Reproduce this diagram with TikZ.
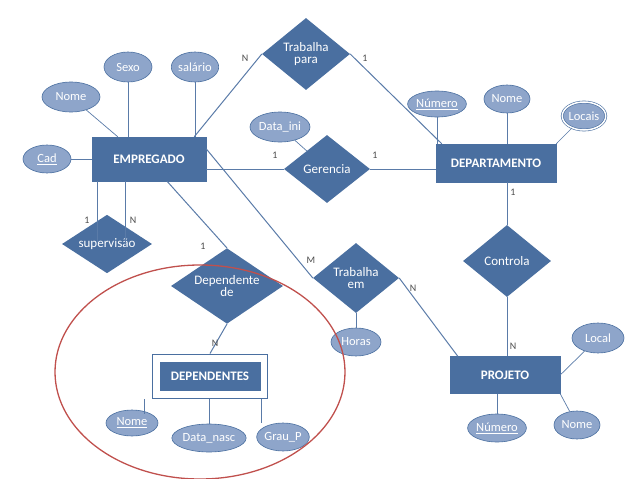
\documentclass[tikz,border=0pt]{standalone}
\usepackage{fontspec}
\setmainfont{Carlito}
\usetikzlibrary{shapes.geometric}
\definecolor{dk}{HTML}{4A6FA0}
\definecolor{lt}{HTML}{8EA5CA}
\definecolor{ln}{HTML}{5A7BA8}
\definecolor{rd}{HTML}{C0504D}
\tikzset{
 ent/.style={rectangle,fill=dk,draw=dk,text=white,font=\fontsize{13}{14}\selectfont\bfseries,minimum height=38pt,inner sep=0pt},
 rel/.style={diamond,fill=dk,text=white,font=\fontsize{13}{14}\selectfont,inner sep=0pt,aspect=1.2,align=center},
 att/.style={ellipse,fill=lt,draw=dk,line width=0.6pt,text=white,font=\fontsize{12.5}{13}\selectfont,inner sep=0pt,minimum height=28pt},
 con/.style={draw=ln,line width=1pt},
 lab/.style={font=\fontsize{10}{11}\selectfont,text=black!70}
}
\begin{document}
\begin{tikzpicture}[x=1pt,y=-1pt]
\useasboundingbox (0,0) rectangle (638,479);
% entities
\node[ent,minimum width=114pt,minimum height=44pt] (emp) at (149,159) {EMPREGADO};
\node[ent,minimum width=120pt] (dep) at (496,163) {DEPARTAMENTO};
\node[ent,minimum width=110pt,minimum height=37pt] (proj) at (505,375) {PROJETO};
\node[rectangle,draw=dk,line width=1pt,fill=white,minimum width=115pt,minimum height=44pt] (dpo) at (210,376) {};
\node[ent,minimum width=100pt,minimum height=28pt] (dps) at (210,376) {DEPENDENTES};
% relationships
\node[rel,minimum width=88pt,minimum height=72pt] (tp) at (306,54) {Trabalha\\[-2pt]para};
\node[rel,minimum width=86pt,minimum height=68pt] (ger) at (327,169) {Gerencia};
\node[rel,minimum width=88pt,minimum height=72pt] (ctl) at (507,261) {Controla};
\node[rel,minimum width=90pt,minimum height=58pt] (sup) at (107,244) {supervisão};
\node[rel,minimum width=112pt,minimum height=72pt] (dde) at (227,286) {Dependente\\[-2pt]de};
\node[rel,minimum width=86pt,minimum height=70pt] (tem) at (356,278) {Trabalha\\[-2pt]em};
% attributes
\node[att,minimum width=48pt] (cad) at (47,159) {\underline{Cad}};
\node[att,minimum width=58pt,minimum height=30pt] (enome) at (71,97) {Nome};
\node[att,minimum width=48pt,minimum height=30pt] (sexo) at (128,67) {Sexo};
\node[att,minimum width=46pt,minimum height=30pt] (sal) at (195,67) {salário};
\node[att,minimum width=60pt,minimum height=30pt] (dini) at (280,127) {Data\_ini};
\node[att,minimum width=46pt,minimum height=26pt] (dnum) at (437,104) {\underline{Número}};
\node[att,minimum width=46pt] (dnome) at (507,99) {Nome};
\node[att,minimum width=42pt,minimum height=28pt,double=white,double distance=1.5pt,draw=dk] (loc) at (584,116) {Locais};
\node[att,minimum width=52pt,minimum height=30pt] (plocal) at (598,338) {Local};
\node[att,minimum width=50pt] (pnum) at (497,428) {\underline{Número}};
\node[att,minimum width=46pt] (pnome) at (577,425) {Nome};
\node[att,minimum width=50pt] (horas) at (356,342) {Horas};
\node[att,minimum width=52pt,minimum height=26pt] (dnm) at (132,423) {\underline{Nome}};
\node[att,minimum width=62pt] (dnasc) at (209,438) {Data\_nasc};
\node[att,minimum width=52pt] (grau) at (283,437) {Grau\_P};
% connectors
\draw[con] (emp.north east)++(-12,0) coordinate (e1) -- (tp.west);
\draw[con] (tp.east) -- ([xshift=6pt]dep.north west);
\draw[con] (emp.east|-ger.west) -- (ger.west);
\draw[con] (ger.east) -- (dep.west|-ger.east);
\draw[con] ([xshift=18pt]emp.south) -- (dde.north);
\draw[con] ([yshift=-12pt]emp.north east) -- (tem.west);
\draw[con] (tem.east) -- ([xshift=8pt]proj.north west);
\draw[con] ([xshift=-52pt]emp.south) -- ([xshift=-52pt]emp.south|-sup.west) coordinate (s1);
\draw[con] ([xshift=-24pt]emp.south) -- ([xshift=-24pt]emp.south|-sup.east);
\draw[con] (dde.south) -- (dpo.north);
\draw[con] (dep.south-|ctl.north) -- (ctl.north);
\draw[con] (ctl.south) -- (proj.north-|ctl.south);
% attribute connectors
\draw[con,line width=0.7pt] (cad) -- (emp);
\draw[con,line width=0.7pt] (enome) -- ([xshift=26pt]emp.north west);
\draw[con,line width=0.7pt] (sexo) -- (sexo|-emp.north);
\draw[con,line width=0.7pt] (sal) -- (sal|-emp.north);
\draw[con,line width=0.7pt] (dini) -- (ger);
\draw[con,line width=0.7pt] (dnum) -- (dnum|-dep.north);
\draw[con,line width=0.7pt] (dnome) -- (dnome|-dep.north);
\draw[con,line width=0.7pt] (loc) -- (dep.north east);
\draw[con,line width=0.7pt] (plocal) -- (proj.east);
\draw[con,line width=0.7pt] (pnum) -- (pnum|-proj.south);
\draw[con,line width=0.7pt] (pnome) -- (proj.south east);
\draw[con,line width=0.7pt] (horas) -- (tem);
\draw[con,line width=0.7pt] (dnm.north east)++(-6,0) coordinate (d1) -- (d1|-dpo.south);
\draw[con,line width=0.7pt] (dnasc) -- (dnasc|-dpo.south);
\draw[con,line width=0.7pt] ([xshift=-22pt]grau.north) -- ([xshift=-22pt]grau.north|-dpo.south);
% labels
\node[lab] (l1) at (245,58) {N};
\node[lab] (l2) at (365,58) {1};
\node[lab] (l3) at (275,155) {1};
\node[lab] (l4) at (375,155) {1};
\node[lab] (l5) at (203,246) {1};
\node[lab] (l6) at (311,260) {M};
\node[lab] (l7) at (413,288) {N};
\node[lab] (l8) at (87,220) {1};
\node[lab] (l9) at (133,220) {N};
\node[lab] (l10) at (215,343) {N};
\node[lab] (l11) at (513,192) {1};
\node[lab] (l12) at (513,346) {N};
% highlight
\draw[rd,line width=1.3pt] (200,372) ellipse [x radius=145, y radius=107];
\end{tikzpicture}
\end{document}
